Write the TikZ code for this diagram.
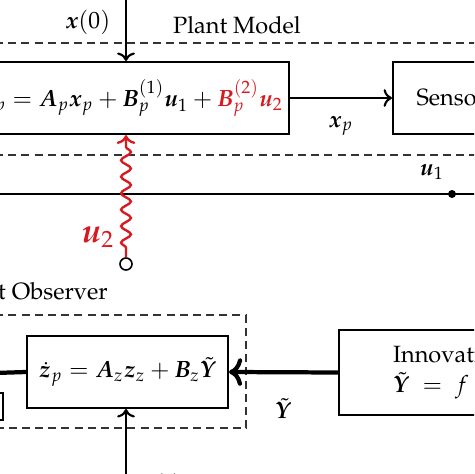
\documentclass[tikz,border=0pt]{standalone}
\usepackage[T1]{fontenc}
\usepackage{xcolor}
\usepackage{amsmath}
\usepackage{amssymb}
\usepackage{mathpazo}
\usepackage{bm}
\usepackage{tikz}
\usetikzlibrary{arrows}
\usetikzlibrary{arrows.meta}
\usetikzlibrary{positioning, decorations.pathmorphing}
\definecolor{sigred}{RGB}{215,25,32}
\tikzset{ 
block/.style = { rectangle, draw = black, fill = white, line width = 0.9pt, minimum height = 30.6pt },
sig/.style = { draw = black, line width = 0.9pt },
bus/.style = { draw = black, line width = 1.8pt },
sep/.style = { draw = black!80, dash pattern = on 3.4pt off 2.2pt, line width = 0.6pt },
dot/.style = { circle, fill = black, inner sep = 0pt, minimum size = 3.4pt },
port/.style = { circle, draw = black, fill = white, inner sep = 0pt, minimum size = 5.1pt, line width = 0.7pt },
wiggle/.style = { decorate, decoration = { snake, segment length = 7pt, amplitude = 2.1pt, pre length = 4pt, post length = 5pt } },
}

\begin{document}
\begin{tikzpicture}[x = 0.425pt, y = -0.425pt]
      \useasboundingbox (0, 0) rectangle (474, 474);
      \clip (0, 0) rectangle (474, 474);
      % plant model
      \node[anchor = center] (plantlbl) at (237, 25) {Plant Model};
      \draw[sep] (-5, 43) -- (480, 43);
      \draw[sep] (-5, 155) -- (480, 155);
      \node[block, anchor = east, inner xsep = 2.5pt] (plant) at (290, 98) {$\dot{\bm x}_p = \bm A_p \bm x_p + \bm B_p^{(1)} \bm u_1 + {\color{sigred} \bm B_p^{(2)} \bm u_2}$};
      \node[block, anchor = west, inner xsep = 10pt] (sensor) at (392, 98) {Sensor};
      \coordinate (x0) at (126, -5);
      \draw[sig, ->] (x0) -- (x0 |- plant.north);
      \node (x0lbl) at (88, 22) {$\bm x(0)$};
      \draw[sig, ->] (plant.east) -- (sensor.west) node[midway, below = 4pt] (xplbl) {$\bm x_p$};
      % u1 and u2
      \coordinate (u1l) at (-5, 194);
      \coordinate (u1r) at (480, 194);
      \draw[sig] (u1l) -- (u1r);
      \node[dot] (tap) at (452, 194) {};
      \node (u1lbl) at (432, 172) {$\bm u_1$};
      \node[port] (u2) at (126, 264) {};
      \draw[sig, sigred, line width = 1pt, wiggle, ->] (u2) -- (u2 |- plant.south);
      \node[sigred, font = \Large] (u2lbl) at (98, 237) {$\bm u_2$};
      % observer
      \node[anchor = east] (obslbl) at (116, 294) {Unknown Input Observer};
      \draw[sep] (-10, 315) rectangle (246, 428);
      \node[block, minimum width = 85.4pt] (obs) at (127.5, 372) {$\dot{\bm z}_p = \bm A_z \bm z_z + \bm B_z \tilde{\bm Y}$};
      \node[block, anchor = west, align = left, inner xsep = 23pt, minimum height = 36pt] (innov) at (338, 372.5) {Innovation\\[1pt] $\tilde{\bm Y} \;=\; f$};
      \draw[bus, ->] (innov.west) -- (obs.east) node[midway, below = 7pt] (ylbl) {$\tilde{\bm Y}$};
      \coordinate (obsout) at (-5, 373);
      \draw[bus] (obs.west) -- (obsout);
      \node[block, anchor = east, minimum width = 30pt, minimum height = 11.5pt] (aux) at (4, 406.5) {};
      \coordinate (zin) at (126, 480);
      \draw[sig, ->] (zin) -- (zin |- obs.south);
      % \node at (160, 486) {};
      \node (inlbl) at (162, 488) {$\bm y^{(2)}$};
\end{tikzpicture}
\end{document}
